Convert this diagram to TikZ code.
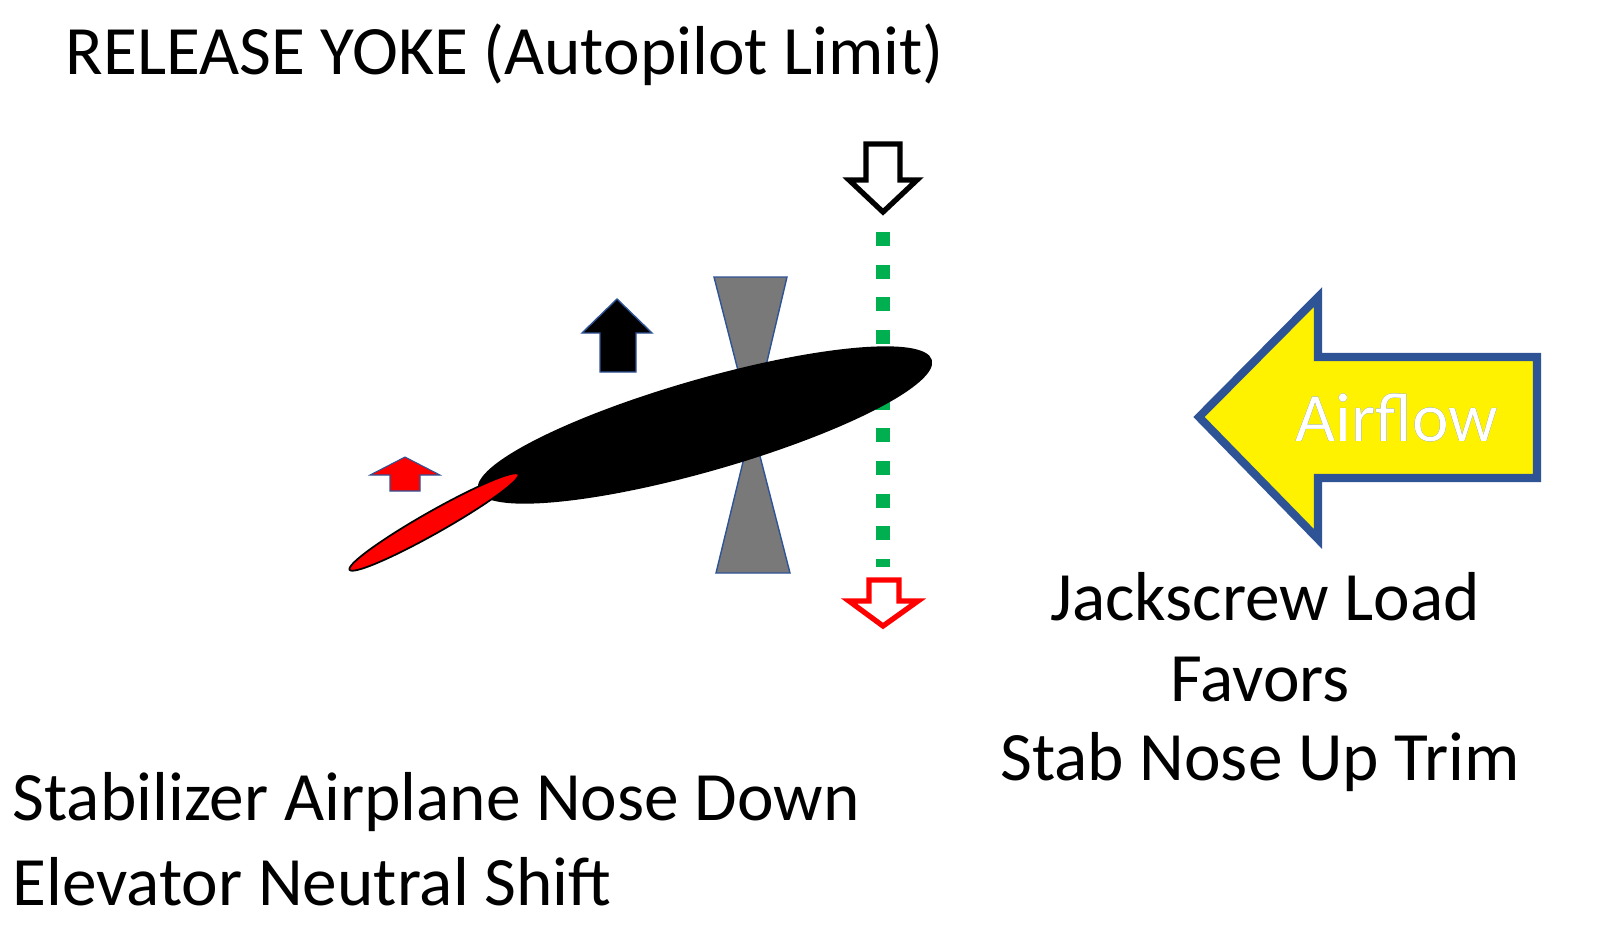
\documentclass[tikz,border=0pt]{standalone}
\usepackage{fontspec}
\setmainfont{Carlito}
\usepackage[outline]{contour}
\contourlength{0.5pt}
\usetikzlibrary{positioning}
\definecolor{flowblue}{RGB}{47,84,150}
\definecolor{dashgreen}{RGB}{0,176,80}
\definecolor{wingred}{RGB}{255,0,0}
\tikzset{
    label text/.style={font=\fontsize{19.7}{24}\selectfont, inner sep=0pt},
    hollow arrow/.style={line width=1.5pt, fill=white, line join=miter},
}
\begin{document}
\begin{tikzpicture}[x=0.01cm, y=-0.01cm]
    \useasboundingbox (0,0) rectangle (1600,939);
    % title
    \node[label text, anchor=west] (title) at (65,55) {RELEASE YOKE (Autopilot Limit)};
    % grey hourglass behind the stabilizer
    \fill[gray!95!black, draw=flowblue, line width=0.4pt] (714,277) -- (787,277) -- (752,425) -- cycle;
    \fill[gray!95!black, draw=flowblue, line width=0.4pt] (716,573) -- (790,573) -- (752,425) -- cycle;
    % green dashed line
    \draw[dashgreen, line width=4pt, dash pattern=on 4pt off 5.3pt] (883,232) -- (883,567);
    % stabilizer and elevator
    \fill[black] (705,425) ellipse[x radius=236, y radius=46, rotate=16];
    \draw[black, fill=wingred, line width=0.5pt] (434,522) ellipse[x radius=97, y radius=11, rotate=29.5];
    % black up arrow
    \fill[black, draw=flowblue, line width=0.4pt] (600,372) -- (600,333) -- (582,333) -- (617,299) -- (652,333) -- (636,333) -- (636,372) -- cycle;
    % red up arrow
    \fill[wingred, draw=flowblue, line width=0.3pt] (390,491) -- (390,475) -- (370,475) -- (405,457) -- (440,475) -- (420,475) -- (420,491) -- cycle;
    % hollow down arrows
    \draw[hollow arrow, draw=black] (866,144) -- (900,144) -- (900,180) -- (917,180) -- (883,212) -- (849,180) -- (866,180) -- cycle;
    \draw[hollow arrow, draw=wingred] (869,580) -- (899,580) -- (899,601) -- (918,601) -- (883,626) -- (849,601) -- (869,601) -- cycle;
    % airflow arrow
    \draw[draw=flowblue, fill=yellow, line width=2.3pt, line join=miter] (1199,417) -- (1318,297) -- (1318,357) -- (1537,357) -- (1537,478) -- (1318,478) -- (1318,539) -- cycle;
    \node[label text, text=white] (airflow) at (1397,418) {\contour{flowblue}{Airflow}};
    % captions
    \node[label text] (load) at (1265,597) {Jackscrew Load};
    \node[label text] (favors) at (1260,680) {Favors};
    \node[label text] (trim) at (1260,762) {Stab Nose Up Trim};
    \node[label text, anchor=west] (stab) at (12,802) {Stabilizer Airplane Nose Down};
    \node[label text, anchor=west] (elev) at (12,882) {Elevator Neutral Shift};
\end{tikzpicture}
\end{document}
